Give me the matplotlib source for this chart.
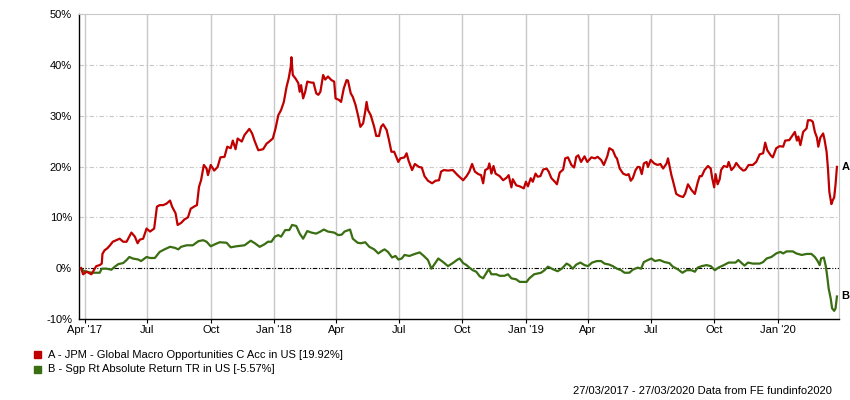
import matplotlib
matplotlib.use('Agg')
import matplotlib.pyplot as plt
from matplotlib.patches import Rectangle
import pandas as pd

plt.rcParams['font.family'] = ['Liberation Sans', 'DejaVu Sans']

start = pd.Timestamp('2017-03-27')

# days since 27/03/2017, cumulative return in %
a_days = [0, 3, 8, 15, 19, 22, 27, 30, 31, 34, 38, 42, 46, 51, 56, 61, 66, 73, 78, 82,
          85, 90, 95, 100, 106, 110, 114, 119, 124, 129, 132, 137, 140, 145, 150, 155, 159, 165, 168, 171,
          174, 178, 182, 184, 188, 193, 198, 202, 208, 212, 217, 220, 224, 227, 233, 237, 244, 248, 252, 257,
          264, 269, 271, 278, 282, 286, 290, 294, 298, 301, 304, 305, 307, 311, 315, 317, 319, 322, 325, 328,
          334, 337, 341, 344, 347, 351, 354, 358, 363, 367, 369, 374, 377, 381, 385, 387, 391, 394, 398, 402,
          405, 409, 412, 414, 416, 420, 425, 428, 432, 435, 438, 443, 446, 450, 454, 460, 463, 469, 472, 475,
          480, 484, 490, 494, 498, 503, 509, 514, 519, 522, 526, 532, 539, 546, 554, 559, 563, 567, 571, 576,
          580, 583, 586, 590, 592, 595, 598, 601, 607, 612, 617, 620, 624, 626, 631, 636, 642, 645, 648, 652,
          655, 659, 662, 666, 670, 675, 678, 682, 687, 690, 694, 699, 702, 706, 711, 715, 718, 721, 725, 730,
          734, 740, 745, 749, 754, 758, 763, 766, 771, 775, 777, 781, 786, 791, 794, 797, 800, 804, 807, 810,
          813, 816, 820, 822, 826, 831, 836, 840, 844, 849, 851, 853, 856, 858, 861, 863, 868, 873, 876, 880,
          885, 890, 894, 897, 900, 904, 909, 913, 915, 918, 920, 923, 926, 928, 932, 937, 939, 943, 947, 950,
          955, 960, 963, 968, 974, 979, 984, 989, 992, 995, 1000, 1003, 1008, 1013, 1018, 1021, 1027, 1032, 1035, 1038,
          1040, 1043, 1047, 1052, 1054, 1058, 1061, 1064, 1067, 1069, 1072, 1076, 1078, 1081, 1083, 1085, 1088, 1090, 1092, 1094,
          1096]
a_vals = [0.0, -1.2, -0.7, -1.2, -0.3, 0.4, 0.6, 0.9, 2.8, 3.5, 3.9, 4.5, 5.2, 5.5, 5.8, 5.2, 5.2, 7.0, 6.2, 4.9,
          5.6, 5.8, 7.8, 7.2, 7.8, 12.1, 12.4, 12.4, 12.7, 13.3, 12.1, 10.8, 8.5, 8.9, 9.6, 10.0, 11.7, 12.2, 12.4, 16.0,
          17.3, 20.3, 19.6, 18.3, 20.3, 19.2, 19.9, 21.8, 21.9, 23.9, 23.6, 25.1, 23.4, 25.5, 24.9, 26.2, 27.4, 26.5, 24.9, 23.2,
          23.4, 24.5, 24.7, 25.5, 27.5, 30.1, 31.1, 32.7, 35.7, 37.3, 39.6, 41.5, 38.0, 37.3, 36.4, 34.7, 36.0, 33.4, 34.7, 36.7,
          36.5, 36.5, 34.4, 34.1, 34.7, 38.0, 37.1, 37.7, 37.0, 36.7, 33.4, 33.1, 32.7, 35.4, 37.0, 36.9, 34.4, 33.7, 32.1, 29.8,
          27.8, 28.5, 30.8, 32.7, 31.1, 30.1, 27.8, 26.0, 26.0, 27.8, 28.3, 27.2, 25.5, 22.9, 22.9, 20.9, 21.6, 21.8, 22.6, 21.1,
          19.3, 20.5, 19.9, 19.8, 18.1, 17.2, 16.7, 17.2, 17.3, 19.0, 19.3, 19.2, 19.3, 18.3, 17.3, 18.1, 19.0, 20.5, 19.0, 18.5,
          18.3, 16.7, 19.3, 19.6, 20.6, 18.6, 20.1, 18.6, 18.1, 17.3, 17.8, 18.3, 15.9, 17.5, 16.3, 16.1, 15.7, 17.0, 16.1, 17.7,
          17.0, 18.6, 18.0, 18.1, 19.4, 19.6, 19.0, 17.7, 17.0, 16.5, 18.8, 19.4, 21.6, 21.8, 20.3, 19.8, 21.9, 22.2, 20.9, 22.0,
          20.9, 21.8, 21.6, 21.9, 21.3, 20.3, 22.0, 23.6, 23.2, 21.9, 21.6, 19.6, 18.6, 18.3, 18.5, 17.2, 17.7, 19.3, 19.9, 19.9,
          18.5, 20.6, 20.9, 19.9, 21.3, 20.6, 20.3, 20.5, 19.6, 20.6, 21.6, 20.3, 18.3, 17.3, 15.7, 14.6, 14.2, 14.0, 14.7, 16.5,
          15.4, 14.6, 16.8, 18.1, 18.1, 19.3, 20.1, 19.6, 17.8, 15.9, 18.5, 16.5, 17.5, 19.3, 20.1, 19.9, 20.9, 19.3, 19.9, 20.7,
          19.8, 19.2, 19.3, 20.3, 20.3, 20.9, 22.4, 22.6, 24.7, 23.2, 22.2, 21.8, 23.6, 24.0, 23.9, 25.1, 25.2, 26.2, 26.8, 25.1,
          25.9, 24.2, 26.8, 27.5, 29.1, 29.1, 28.8, 26.8, 25.7, 23.9, 25.7, 26.5, 25.3, 22.9, 19.6, 15.0, 12.6, 13.4, 13.9, 16.5,
          19.92]

b_days = [0, 3, 9, 15, 22, 27, 30, 37, 44, 49, 54, 61, 66, 70, 75, 83, 87, 95, 100, 107,
          114, 121, 129, 136, 141, 145, 153, 162, 170, 177, 182, 188, 194, 201, 211, 217, 225, 237, 246, 252,
          259, 266, 271, 276, 281, 286, 290, 296, 302, 306, 312, 317, 322, 328, 334, 341, 347, 352, 358, 367,
          373, 378, 382, 390, 394, 401, 406, 412, 418, 425, 431, 435, 440, 445, 451, 456, 460, 465, 469, 476,
          484, 491, 497, 503, 508, 513, 518, 525, 532, 539, 546, 549, 554, 559, 563, 568, 573, 578, 583, 588,
          591, 595, 602, 607, 614, 619, 624, 631, 636, 646, 650, 657, 667, 672, 677, 684, 691, 697, 704, 708,
          713, 718, 724, 730, 735, 741, 748, 754, 759, 766, 771, 777, 783, 788, 795, 800, 807, 812, 816, 822,
          827, 832, 839, 846, 853, 858, 865, 872, 878, 885, 890, 894, 900, 907, 913, 919, 924, 932, 939, 949,
          953, 957, 962, 967, 974, 984, 989, 994, 1001, 1008, 1014, 1018, 1023, 1032, 1037, 1045, 1052, 1059, 1064, 1068,
          1071, 1073, 1077, 1080, 1082, 1084, 1087, 1089, 1092, 1094, 1096]
b_vals = [0.0, -0.5, -0.7, -0.9, -0.9, -0.9, -0.1, -0.1, -0.3, 0.3, 0.8, 1.0, 1.6, 2.2, 1.9, 1.7, 1.4, 2.2, 2.0, 2.0,
          3.2, 3.7, 4.2, 4.0, 3.7, 4.2, 4.5, 4.5, 5.3, 5.5, 5.2, 4.3, 4.7, 5.1, 5.0, 4.1, 4.3, 4.5, 5.4, 4.9,
          4.2, 4.7, 5.2, 5.2, 6.2, 6.5, 6.2, 7.5, 7.5, 8.5, 8.3, 6.8, 5.8, 7.3, 7.0, 6.8, 7.2, 7.6, 7.2, 7.0,
          6.5, 6.6, 7.2, 7.6, 5.8, 5.0, 4.9, 5.1, 4.2, 3.7, 2.9, 3.3, 3.7, 3.2, 2.1, 2.4, 1.7, 1.9, 2.6, 2.4,
          2.8, 3.1, 2.4, 1.6, -0.1, 0.9, 1.9, 1.2, 0.4, 1.0, 1.7, 1.9, 1.0, 0.6, 0.1, -0.4, -0.7, -1.6, -2.0, -0.9,
          -0.2, -1.2, -1.2, -1.5, -1.5, -1.2, -2.0, -2.2, -2.7, -2.7, -2.0, -1.2, -0.9, -0.4, 0.3, -0.2, -0.6, -0.1, 0.9, 0.6,
          -0.1, 0.7, 1.1, 0.6, 0.4, 1.1, 1.4, 1.4, 0.9, 0.7, 0.4, -0.1, -0.4, -0.9, -0.9, -0.3, 0.1, -0.1, 1.2, 1.6,
          1.9, 1.4, 1.6, 1.2, 1.0, 0.3, -0.2, -0.9, -0.4, -0.4, -0.7, 0.1, 0.4, 0.6, 0.4, -0.4, 0.1, 0.6, 1.1, 1.1,
          1.6, 1.1, 0.5, 1.1, 0.9, 0.9, 1.2, 1.9, 2.2, 2.9, 3.2, 2.9, 3.3, 3.3, 2.9, 2.6, 2.8, 2.8, 2.2, 1.4,
          0.6, 1.9, 2.1, 0.3, -1.7, -4.0, -6.0, -7.9, -8.4, -7.9, -5.57]

tick_dates = ['2017-04-01', '2017-07-01', '2017-10-01', '2018-01-01', '2018-04-01', '2018-07-01',
              '2018-10-01', '2019-01-01', '2019-04-01', '2019-07-01', '2019-10-01', '2020-01-01']
tick_labels = ["Apr '17", 'Jul', 'Oct', "Jan '18", 'Apr', 'Jul', 'Oct', "Jan '19", 'Apr', 'Jul', 'Oct', "Jan '20"]

a_label = 'A - JPM - Global Macro Opportunities C Acc in US [19.92%]'
b_label = 'B - Sgp Rt Absolute Return TR in US [-5.57%]'
red = '#c00000'
green = '#3a6e12'

a_x = start + pd.to_timedelta(a_days, unit='D')
b_x = start + pd.to_timedelta(b_days, unit='D')

fig = plt.figure(figsize=(8.5, 4), dpi=100)
ax = fig.add_axes([79/850, 1 - 319/400, 760/850, 305/400])

ax.plot(b_x, b_vals, color=green, lw=1.6, zorder=3)
ax.plot(a_x, a_vals, color=red, lw=1.6, zorder=4)

ax.set_xlim(start - pd.Timedelta(days=3), start + pd.Timedelta(days=1099))
ax.set_ylim(-10, 50)

yt = [-10, 0, 10, 20, 30, 40, 50]
ax.set_yticks(yt)
ax.set_yticklabels(['%d%%' % v for v in yt], fontsize=8)
ax.tick_params(axis='y', length=0, pad=5)
for v in [10, 20, 30, 40]:
    ax.axhline(v, color='#c8c8c8', lw=0.8, dashes=(4, 2, 1, 2), zorder=1)
ax.axhline(0, color='black', lw=0.8, dashes=(4, 1.5, 1, 1.5, 1, 1.5), zorder=2)

ax.set_xticks(pd.to_datetime(tick_dates))
ax.set_xticklabels(tick_labels, fontsize=8)
ax.tick_params(axis='x', length=3, width=0.8, pad=1)
for d in tick_dates:
    ax.axvline(pd.Timestamp(d), color='#c8c8c8', lw=1.0, zorder=1)

ax.spines['left'].set_color('black')
ax.spines['bottom'].set_color('black')
ax.spines['left'].set_linewidth(1.0)
ax.spines['bottom'].set_linewidth(1.0)
ax.spines['top'].set_color('#c8c8c8')
ax.spines['right'].set_color('#c8c8c8')

ax.text(1.003, (a_vals[-1] + 10) / 60, 'A', transform=ax.transAxes, fontsize=8,
        fontweight='bold', va='center', ha='left')
ax.text(1.003, (b_vals[-1] + 10) / 60, 'B', transform=ax.transAxes, fontsize=8,
        fontweight='bold', va='center', ha='left')

# legend rows below the chart
for i, (lab, col) in enumerate([(a_label, red), (b_label, green)]):
    yc = 1 - (354.5 + 15 * i) / 400
    fig.patches.append(Rectangle((34/850, yc - 3.5/400), 7/850, 7/400, color=col,
                                 transform=fig.transFigure, figure=fig))
    fig.text(48/850, yc, lab, fontsize=8, va='center', ha='left')

fig.text(832/850, 1 - 391/400, '27/03/2017 - 27/03/2020 Data from FE fundinfo2020',
         fontsize=8, va='center', ha='right')

fig.savefig('out.png', dpi=100)
